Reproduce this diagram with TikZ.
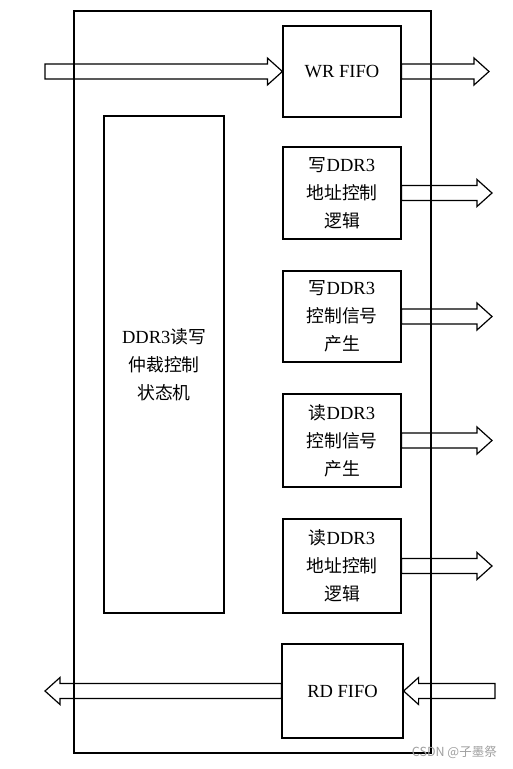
\documentclass[tikz,border=0pt]{standalone}
\usepackage{fontspec}
\setmainfont{Liberation Serif}
\newfontfamily\cjk{Noto Sans CJK SC}
\usetikzlibrary{calc}
\newcommand\rarr[2]{\draw[arr] ($(#1)+(0,-7.5)$) -- ($(#2)+(-15,-7.5)$) -- ($(#2)+(-15,-13.5)$) -- (#2) -- ($(#2)+(-15,13.5)$) -- ($(#2)+(-15,7.5)$) -- ($(#1)+(0,7.5)$) -- cycle;}
\newcommand\larr[2]{\draw[arr] ($(#1)+(0,-7.5)$) -- ($(#2)+(15,-7.5)$) -- ($(#2)+(15,-13.5)$) -- (#2) -- ($(#2)+(15,13.5)$) -- ($(#2)+(15,7.5)$) -- ($(#1)+(0,7.5)$) -- cycle;}
\newcommand\zh[1]{{\cjk\fontsize{17.8pt}{28pt}\selectfont #1}}
\begin{document}
\begin{tikzpicture}[x=1pt,y=-1pt,
  box/.style={draw,line width=1.2pt,minimum width=118,inner sep=0,align=center,
    font=\fontsize{18.5pt}{28pt}\selectfont},
  arr/.style={draw,line width=1.2pt,line join=miter},
  frame/.style={draw,line width=1.2pt}]
\useasboundingbox (0,0) rectangle (513,769);
\node[frame,minimum width=357,minimum height=742,inner sep=0] (outer) at (252.5,382) {};
\node[box,minimum width=120,minimum height=497] (fsm) at (164,364.5)
  {DDR3\zh{读写}\\\zh{仲裁控制}\\\zh{状态机}};
\node[box,minimum height=91] (wr) at (342,71.5) {WR FIFO};
\node[box,minimum height=92] (b1) at (342,193) {\zh{写}DDR3\\\zh{地址控制}\\\zh{逻辑}};
\node[box,minimum height=91] (b2) at (342,316.5) {\zh{写}DDR3\\\zh{控制信号}\\\zh{产生}};
\node[box,minimum height=93] (b3) at (342,440.5) {\zh{读}DDR3\\\zh{控制信号}\\\zh{产生}};
\node[box,minimum height=94] (b4) at (342,566) {\zh{读}DDR3\\\zh{地址控制}\\\zh{逻辑}};
\node[box,minimum width=121,minimum height=94] (rd) at (342.5,691) {RD FIFO};
\node[text=gray!75,font=\cjk\fontsize{12.5pt}{14pt}\selectfont,anchor=east,inner sep=0] (wm) at (497,752) {CSDN @子墨祭};
\coordinate (xl) at (45,0);
\coordinate (xr) at (489,0);
\coordinate (xr2) at (492,0);
\coordinate (xt) at (495,0);
\coordinate (in) at (wr.west -| xl);
\coordinate (o0) at (wr.east -| xr);
\coordinate (o1) at (b1.east -| xr2);
\coordinate (o2) at (b2.east -| xr2);
\coordinate (o3) at (b3.east -| xr2);
\coordinate (o4) at (b4.east -| xr2);
\coordinate (rin) at (rd.east -| xt);
\coordinate (rout) at (rd.west -| xl);
\rarr{in}{wr.west}
\rarr{wr.east}{o0}
\rarr{b1.east}{o1}
\rarr{b2.east}{o2}
\rarr{b3.east}{o3}
\rarr{b4.east}{o4}
\larr{rin}{rd.east}
\larr{rd.west}{rout}
\end{tikzpicture}
\end{document}
